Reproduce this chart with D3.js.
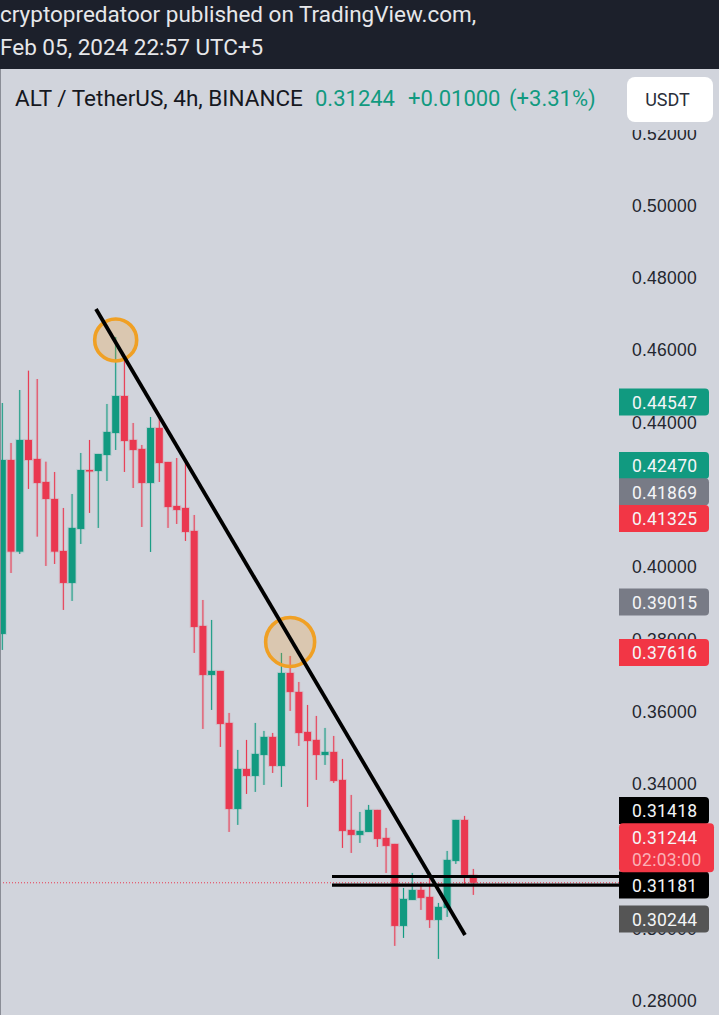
<!DOCTYPE html>
<html>
<head>
<meta charset="utf-8">
<script src="https://cdn.jsdelivr.net/npm/d3@7"></script>
<style>
  html, body { margin: 0; padding: 0; background: #d1d4dc; }
  svg { display: block; font-family: Roboto, sans-serif; }
</style>
</head>
<body>
<div id="chart"></div>
<script>
// candles, oldest first
const opens = [0.3813,0.42944,0.40407,0.43498,0.42972,0.42335,0.41865,0.40426,0.39541,0.41035,0.42667,0.4264,0.43082,0.43691,0.44715,0.43498,0.43249,0.42308,0.4383,0.42889,0.41671,0.41616,0.4098,0.38351,0.36995,0.37106,0.35667,0.33287,0.34394,0.342,0.34781,0.3528,0.34477,0.3705,0.36525,0.35418,0.35197,0.34781,0.34865,0.3409,0.32706,0.32568,0.32651,0.3326,0.32485,0.32319,0.3005,0.30769,0.31046,0.30852,0.30216,0.30548,0.31848,0.32983,0.31461];
const highs = [0.44521,0.43415,0.44881,0.45415,0.45185,0.42897,0.42612,0.41616,0.42003,0.43138,0.43498,0.4311,0.44494,0.46348,0.45711,0.43968,0.43359,0.44134,0.44134,0.42889,0.42999,0.42889,0.41422,0.3907,0.38517,0.37106,0.35944,0.3492,0.35197,0.35667,0.35446,0.3539,0.37604,0.37521,0.36801,0.36165,0.35861,0.35529,0.35307,0.34671,0.33675,0.33204,0.33398,0.3326,0.32762,0.32319,0.31101,0.31516,0.31267,0.31461,0.30686,0.32125,0.32983,0.33094,0.31627];
const lows = [0.37687,0.39817,0.40343,0.42142,0.40822,0.40011,0.40066,0.38794,0.39043,0.4062,0.41478,0.41063,0.42363,0.43221,0.42612,0.42169,0.4109,0.40399,0.42335,0.41063,0.41173,0.40703,0.37604,0.35501,0.36027,0.35003,0.32651,0.32845,0.33702,0.33758,0.33951,0.34283,0.33896,0.35999,0.3503,0.33343,0.3409,0.34505,0.34007,0.32208,0.3207,0.32347,0.32651,0.32236,0.31516,0.29497,0.29718,0.30769,0.30493,0.29995,0.29137,0.30299,0.31765,0.31157,0.30908];
const closes = [0.42944,0.40407,0.43498,0.42944,0.42308,0.41865,0.40407,0.39541,0.41063,0.42667,0.4264,0.4311,0.43719,0.44715,0.4347,0.43221,0.42308,0.4383,0.42861,0.41644,0.41561,0.40952,0.38323,0.36995,0.37106,0.35639,0.33287,0.34394,0.342,0.34809,0.3528,0.34477,0.3705,0.36525,0.3539,0.35169,0.34781,0.34865,0.34062,0.32679,0.32568,0.32679,0.3326,0.32457,0.32264,0.3005,0.30797,0.31046,0.30825,0.30216,0.30576,0.31876,0.32983,0.31461,0.31244];

// 0.42 and 0.32 sit fully under price tags, so they never show
const tickValues = [0.52,0.50,0.48,0.46,0.44,0.40,0.38,0.36,0.34,0.30,0.28];

// price tags on the right scale
const tagPrices = [0.44547,0.42470,0.41869,0.41325,0.39015,0.37616,0.31418,0.31181,0.30244];
const tagColors = ['#119a80','#119a80','#787b86','#f23645','#787b86','#f23645','#000000','#000000','#555555'];
const tagNudge = [0,-11.5,-7,0,0,0,-66,0,0]; // pushed apart like the real chart does

const lastPrice = 0.31244;
const countdown = '02:03:00';

// drawings
const trendIdx = [10.74, 53.05];
const trendPrice = [0.47122, 0.29801];
const levelPrices = [0.31418, 0.31181];
const levelStartIdx = 37.8;
const circleIdx = [13, 33];
const circlePrice = [0.46265, 0.37908];
const circleRadius = [21, 24.5];

const W = 719, H = 1015;
const BG = '#d1d4dc', UP = '#119a80', DOWN = '#ea3850';

const x = d3.scaleLinear().domain([0, 54]).range([2.3, 473.3]);
const y = d3.scaleLinear().domain([0.50, 0.28]).range([205, 1000]);

const svg = d3.select('#chart').append('svg').attr('width', W).attr('height', H);
svg.append('rect').attr('width', W).attr('height', H).attr('fill', BG);

// axis
const axis = d3.axisRight(y).tickValues(tickValues).tickFormat(d3.format('.5f')).tickSize(0).tickPadding(0);
const axisG = svg.append('g').attr('transform', 'translate(632,0.8)').call(axis);
axisG.select('.domain').remove();
axisG.selectAll('text').attr('fill', '#23262e').attr('font-size', 17.5).attr('letter-spacing', 0.25);

// last price dotted line
svg.append('line')
  .attr('x1', 0).attr('x2', 619)
  .attr('y1', y(lastPrice)).attr('y2', y(lastPrice))
  .attr('stroke', DOWN).attr('stroke-width', 1).attr('stroke-dasharray', '1 2');

// candles
const candles = d3.range(opens.length);
const g = svg.append('g');
g.selectAll('line.halo').data(candles).join('line')
  .attr('class', 'halo')
  .attr('x1', i => x(i)).attr('x2', i => x(i))
  .attr('y1', i => y(highs[i])).attr('y2', i => y(lows[i]))
  .attr('stroke', i => closes[i] >= opens[i] ? UP : DOWN)
  .attr('stroke-opacity', 0.1).attr('stroke-width', 3);
g.selectAll('line.wick').data(candles).join('line')
  .attr('class', 'wick')
  .attr('x1', i => x(i)).attr('x2', i => x(i))
  .attr('y1', i => y(highs[i])).attr('y2', i => y(lows[i]))
  .attr('stroke', i => closes[i] >= opens[i] ? UP : DOWN)
  .attr('stroke-width', 1);
g.selectAll('rect').data(candles).join('rect')
  .attr('x', i => x(i) - 3.5)
  .attr('width', 7)
  .attr('y', i => y(Math.max(opens[i], closes[i])))
  .attr('height', i => Math.max(1.5, y(Math.min(opens[i], closes[i])) - y(Math.max(opens[i], closes[i]))))
  .attr('fill', i => closes[i] >= opens[i] ? UP : DOWN)
  .attr('stroke', i => closes[i] >= opens[i] ? UP : DOWN)
  .attr('stroke-opacity', 0.15).attr('stroke-width', 2).attr('paint-order', 'stroke');

// circles
svg.selectAll('circle').data(circleIdx).join('circle')
  .attr('cx', d => x(d))
  .attr('cy', (d, i) => y(circlePrice[i]))
  .attr('r', (d, i) => circleRadius[i])
  .attr('fill', '#ff9800').attr('fill-opacity', 0.2)
  .attr('stroke', '#f0a024').attr('stroke-width', 3.6);

// trend line
svg.append('line')
  .attr('x1', x(trendIdx[0])).attr('y1', y(trendPrice[0]))
  .attr('x2', x(trendIdx[1])).attr('y2', y(trendPrice[1]))
  .attr('stroke', '#000').attr('stroke-width', 3.8);

// horizontal levels
svg.selectAll('line.level').data(levelPrices).join('line')
  .attr('class', 'level')
  .attr('x1', x(levelStartIdx)).attr('x2', 620)
  .attr('y1', d => y(d)).attr('y2', d => y(d))
  .attr('stroke', '#000').attr('stroke-width', 3.2);

// price tags
const tags = svg.append('g');
tagPrices.forEach((p, i) => {
  const cy = y(p) + tagNudge[i];
  tags.append('path')
    .attr('d', `M619,${cy - 13.5}H705a4,4 0 0 1 4,4V${cy + 9.5}a4,4 0 0 1 -4,4H619Z`)
    .attr('fill', tagColors[i]);
  tags.append('text').attr('x', 632).attr('y', cy + 6.8)
    .attr('fill', '#f4f5f7').attr('font-size', 17.5).attr('letter-spacing', 0.25)
    .text(d3.format('.5f')(p));
});

// last price tag, two lines
const lastCy = y(lastPrice) - 35;
tags.append('rect').attr('x', 619).attr('y', lastCy - 24.5).attr('width', 95).attr('height', 49).attr('rx', 4).attr('fill', '#f23645');
tags.append('text').attr('x', 632).attr('y', lastCy - 3.5)
  .attr('fill', '#f4f5f7').attr('font-size', 17.5).attr('letter-spacing', 0.25)
  .text(d3.format('.5f')(lastPrice));
tags.append('text').attr('x', 632).attr('y', lastCy + 18)
  .attr('fill', '#fbb0b6').attr('font-size', 17.5).attr('letter-spacing', 0.25)
  .text(countdown);

// top of the panel hides what scrolls under the legend (cuts the 0.52 label)
svg.append('rect').attr('x', 0).attr('y', 69).attr('width', W).attr('height', 61).attr('fill', BG);

// left edge of the panel
svg.append('rect').attr('x', 0).attr('y', 69).attr('width', 1).attr('height', H - 69).attr('fill', '#8a8d96');

// header
svg.append('rect').attr('width', W).attr('height', 69).attr('fill', '#1c202b');
svg.append('text').attr('x', 0).attr('y', 22).attr('fill', '#e6e7ea').attr('font-size', 22.5)
  .text('cryptopredatoor published on TradingView.com,');
svg.append('text').attr('x', 0).attr('y', 55).attr('fill', '#e6e7ea').attr('font-size', 22.5)
  .text('Feb 05, 2024 22:57 UTC+5');

// legend
svg.append('text').attr('x', 15).attr('y', 105.5).attr('fill', '#16181f').attr('font-size', 22.5)
  .text('ALT / TetherUS, 4h, BINANCE');
svg.append('text').attr('x', 315).attr('y', 105.5).attr('fill', UP).attr('font-size', 22)
  .text('0.31244');
svg.append('text').attr('x', 408).attr('y', 105.5).attr('fill', UP).attr('font-size', 22)
  .text('+0.01000');
svg.append('text').attr('x', 509).attr('y', 105.5).attr('fill', UP).attr('font-size', 22)
  .text('(+3.31%)');

// currency button
svg.append('rect').attr('x', 627).attr('y', 77).attr('width', 86).attr('height', 45).attr('rx', 8).attr('fill', '#fff');
svg.append('text').attr('x', 667.5).attr('y', 106).attr('text-anchor', 'middle').attr('fill', '#2a2e39').attr('font-size', 18)
  .text('USDT');
</script>
</body>
</html>
